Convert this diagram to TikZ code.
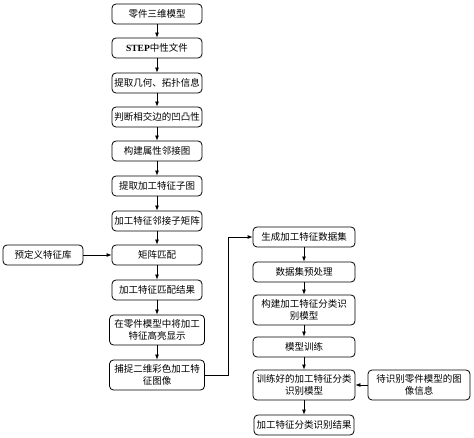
\documentclass[tikz,border=0pt]{standalone}
\usepackage{fontspec}
\setmainfont{Liberation Serif}
\newfontfamily\cjk{Noto Sans CJK SC}
\usetikzlibrary{arrows.meta,positioning,calc}

\begin{document}
\begin{tikzpicture}[x=1pt,y=-1pt,
    box/.style={draw,rectangle,rounded corners=4pt,line width=0.8pt,minimum width=90pt,minimum height=20pt,inner sep=1.5pt,align=center,font=\cjk\fontsize{9.5}{12}\selectfont},
    arr/.style={-{Latex[length=5pt,width=4pt]},line width=0.8pt}]
        \useasboundingbox (0,0) rectangle (474,438);

        % Left column
        \node[box] (model3d) at (157,14) {零件三维模型};
        \node[box] (step) at (157,48) {{\rmfamily\bfseries STEP}中性文件};
        \node[box] (geom) at (157,83) {提取几何、拓扑信息};
        \node[box] (convex) at (157,117) {判断相交边的凹凸性};
        \node[box] (aag) at (157,151) {构建属性邻接图};
        \node[box] (subgraph) at (157,186) {提取加工特征子图};
        \node[box] (submatrix) at (157,221) {加工特征邻接子矩阵};
        \node[box] (match) at (157,255) {矩阵匹配};
        \node[box] (result) at (157,290) {加工特征匹配结果};
        \node[box,minimum width=95pt,minimum height=30pt] (highlight) at (157,330) {在零件模型中将加工\\特征高亮显示};
        \node[box,minimum width=95pt,minimum height=30pt] (capture) at (157,375) {捕捉二维彩色加工特\\征图像};

        % Feature library
        \node[box,minimum width=80pt] (library) at (43,255) {预定义特征库};

        % Right column
        \node[box,minimum width=102pt] (dataset) at (304,237) {生成加工特征数据集};
        \node[box,minimum width=102pt] (preproc) at (304,272) {数据集预处理};
        \node[box,minimum width=102pt,minimum height=30pt] (build) at (304,310) {构建加工特征分类识\\别模型};
        \node[box,minimum width=102pt] (train) at (304,347) {模型训练};
        \node[box,minimum width=102pt,minimum height=30pt] (trained) at (304,385) {训练好的加工特征分类\\识别模型};
        \node[box,minimum width=100pt] (final) at (304,425) {加工特征分类识别结果};
        \node[box,minimum width=102pt,minimum height=30pt] (query) at (419,385) {待识别零件模型的图\\像信息};

        % Arrows
        \foreach \a/\b in {model3d/step,step/geom,geom/convex,convex/aag,aag/subgraph,subgraph/submatrix,submatrix/match,match/result,result/highlight,highlight/capture} {
            \draw[arr] (\a) -- (\b);
        }
        \foreach \a/\b in {dataset/preproc,preproc/build,build/train,train/trained,trained/final} {
            \draw[arr] (\a) -- (\b);
        }
        \draw[arr] (library) -- (match);
        \draw[arr] (query) -- (trained);
        \draw[arr] (capture.east) -- ++(23,0) |- (dataset.west);
    \end{tikzpicture}
\end{document}
